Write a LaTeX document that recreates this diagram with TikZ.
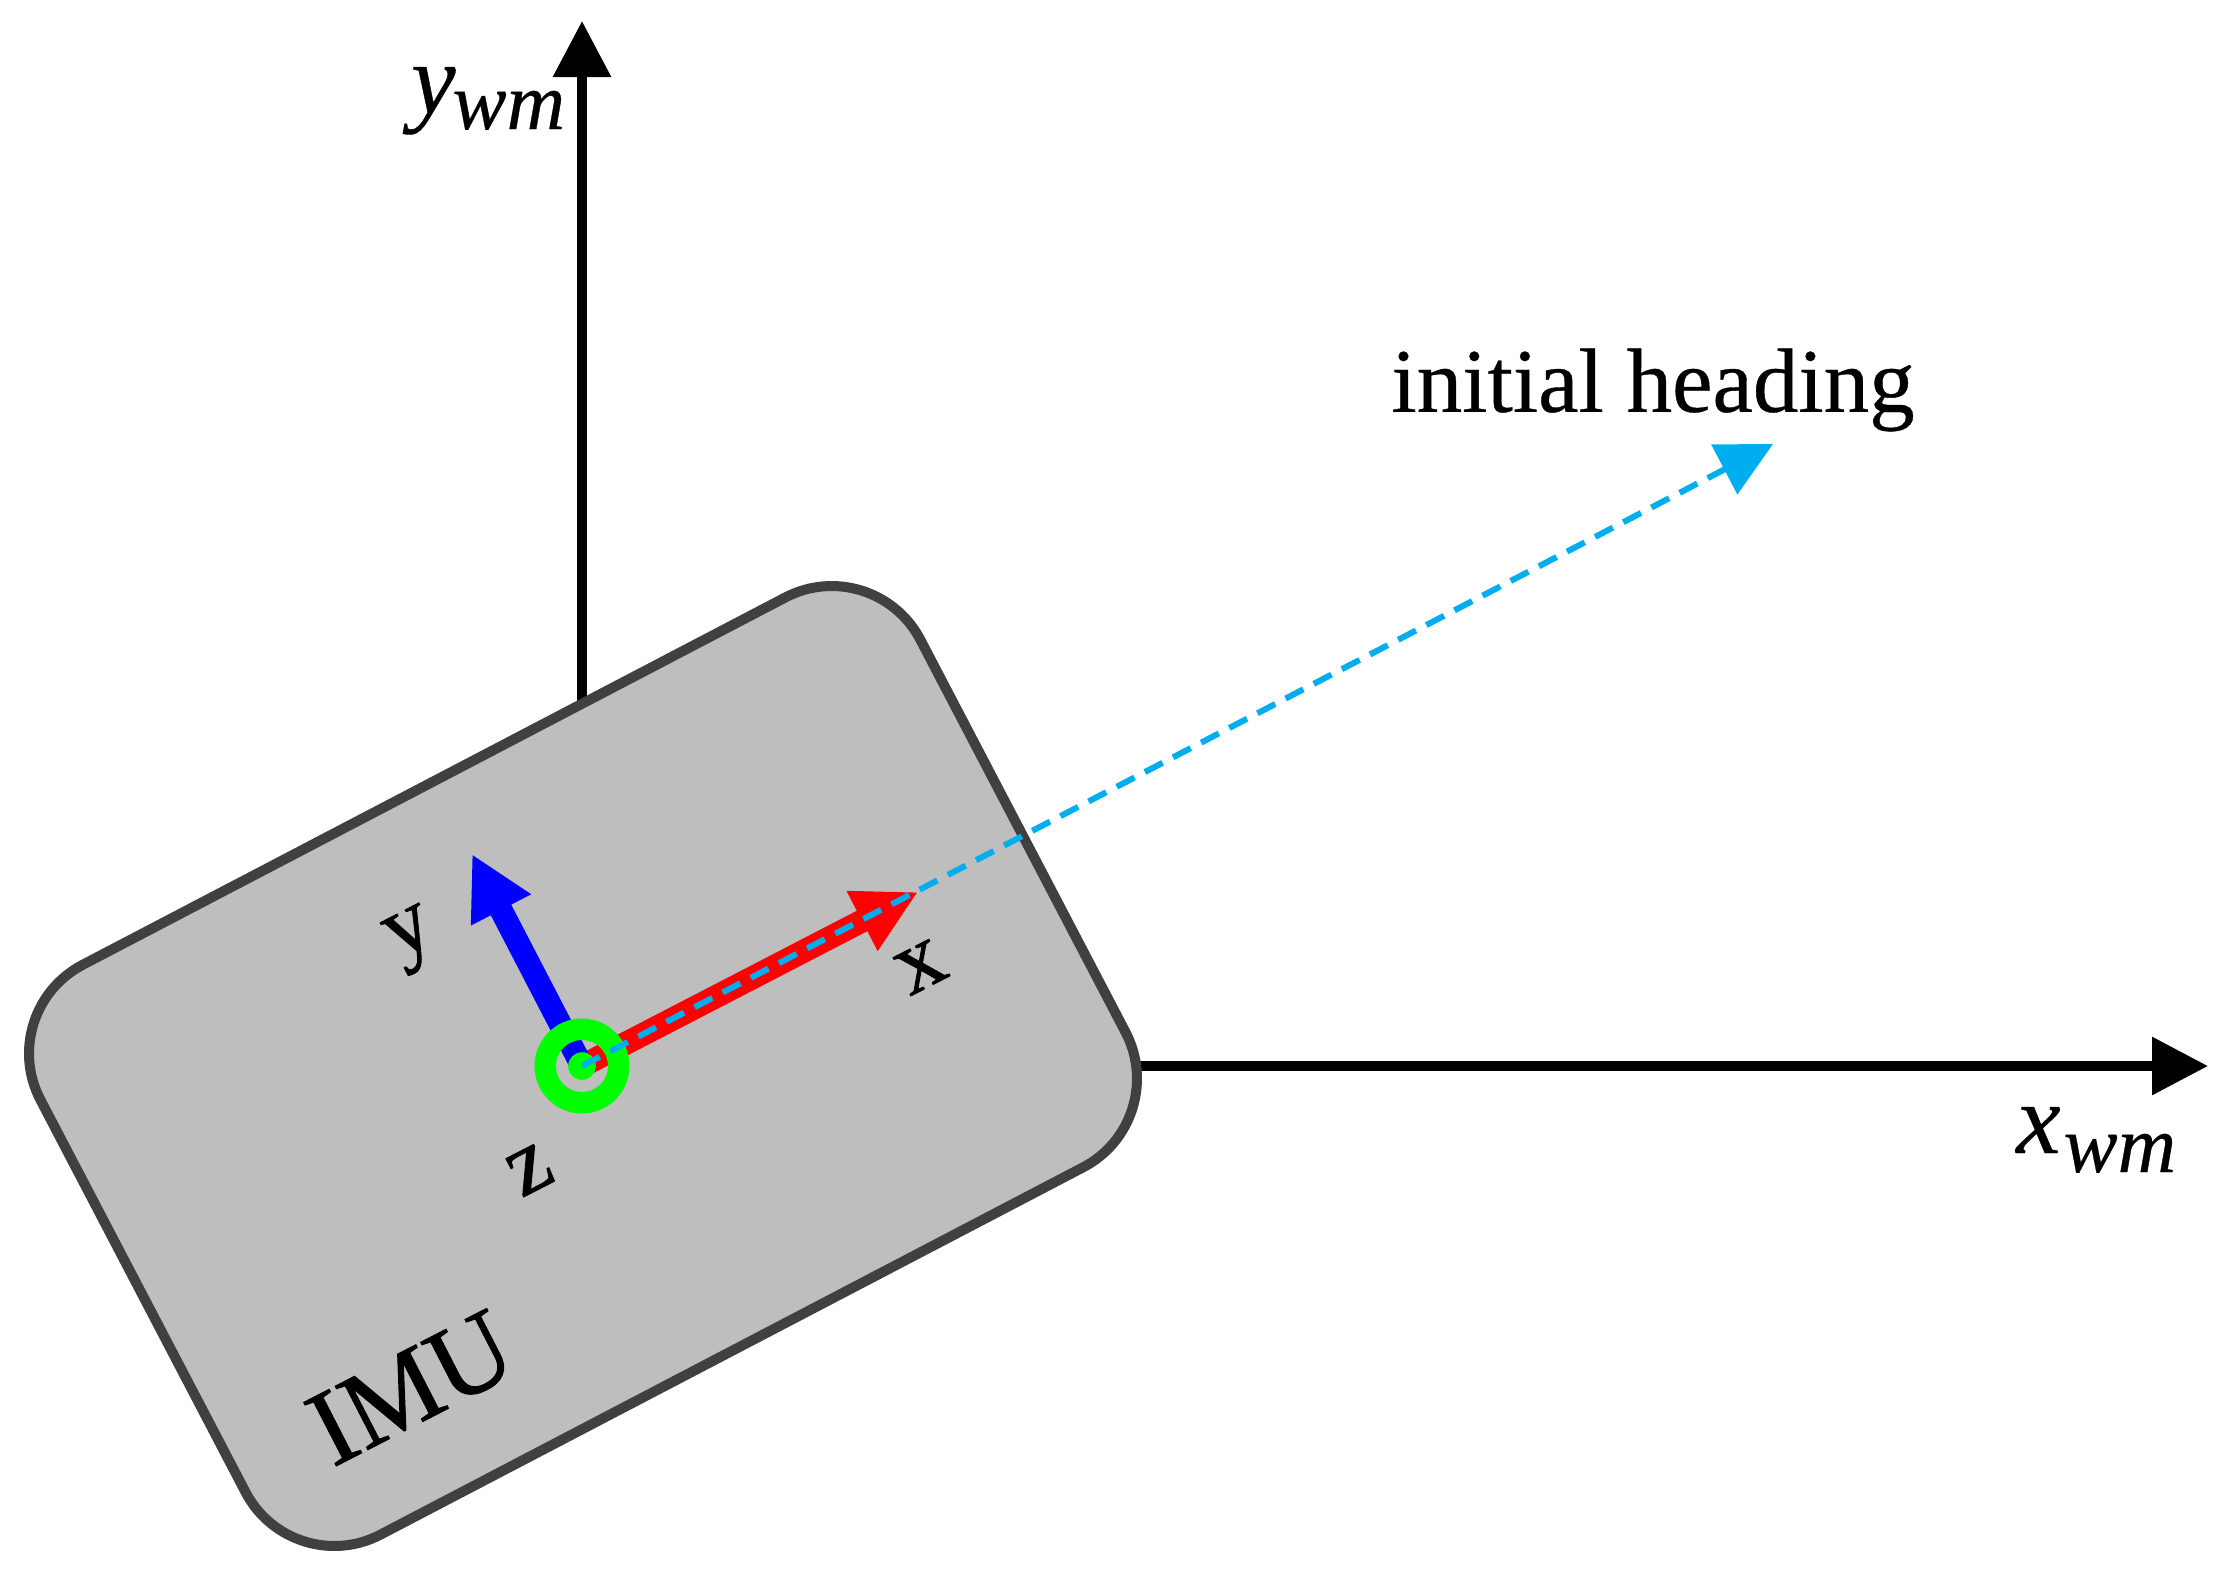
\documentclass[tikz,border=0pt]{standalone}
\usepackage{fontspec}
\setmainfont[FakeBold=0.4]{Liberation Serif}
\newfontfamily\heavyserif[FakeBold=1.0]{Liberation Serif}
\usetikzlibrary{arrows.meta}
\newcommand{\subwm}[1]{\raisebox{#1}{\fontsize{81}{81}\selectfont wm}}
\tikzset{
  x=1pt,y=-1pt,
  axisline/.style={line width=9.5pt,-{Triangle[length=56pt,width=56pt]}},
  framebox/.style={draw=boxedge,fill=boxfill,line width=10pt,rounded corners=100pt,minimum width=993pt,minimum height=643pt,rotate=27.6,inner sep=0pt},
  bodyx/.style={red,line width=23pt,-{Triangle[length=63pt,width=63pt]}},
  bodyy/.style={blue,line width=23pt,-{Triangle[length=63pt,width=63pt]}},
  headingline/.style={skyc,line width=6pt,dash pattern=on 20pt off 11.75pt,-{Triangle[length=55pt,width=55pt]}},
  lab/.style={inner sep=0pt,font=\fontsize{91}{91}\selectfont},
  blab/.style={inner sep=0pt,rotate=27.2,font=\heavyserif\fontsize{92}{92}\selectfont},
  wlab/.style={inner sep=0pt,anchor=base west,font=\fontsize{100}{100}\selectfont\itshape},
}
\definecolor{boxedge}{HTML}{404040}
\definecolor{boxfill}{HTML}{BEBEBE}
\definecolor{skyc}{HTML}{00AEEF}
\begin{document}
\begin{tikzpicture}
\useasboundingbox (0,0) rectangle (2229,1571);
\coordinate (o) at (582,1066);
\coordinate (xw) at (2208,1066);
\coordinate (yw) at (582,21);
\coordinate (bx) at (918,892);
\coordinate (by) at (472,854);
\coordinate (hd) at (1773,444);
\draw[axisline] (o) -- (xw);
\draw[axisline] (o) -- (yw);
\node[framebox] (imu) at (583,1066) {};
\draw[bodyx] (o) -- (bx);
\draw[bodyy] (o) -- (by);
\node[circle,draw=green,line width=21.5pt,minimum size=73.5pt,inner sep=0pt] (ring) at (o) {};
\node[circle,fill=green,minimum size=27.6pt,inner sep=0pt] (dot) at (o) {};
\draw[headingline] (o) -- (hd);
\node[lab] (hl) at (1653,390) {initial heading};
\node[blab] (lx) at (921,967) {x};
\node[blab,font=\heavyserif\fontsize{90}{90}\selectfont] (ly) at (413,940) {y};
\node[blab] (lz) at (530,1170) {z};
\node[blab,font=\heavyserif\fontsize{109}{109}\selectfont] (lm) at (411,1388) {IMU};
\node[wlab] (yl) at (411,113) {y\hspace{-3pt}\subwm{-16pt}};
\node[wlab] (xl) at (2016,1153) {x\hspace{3pt}\subwm{-19pt}};
\end{tikzpicture}
\end{document}
